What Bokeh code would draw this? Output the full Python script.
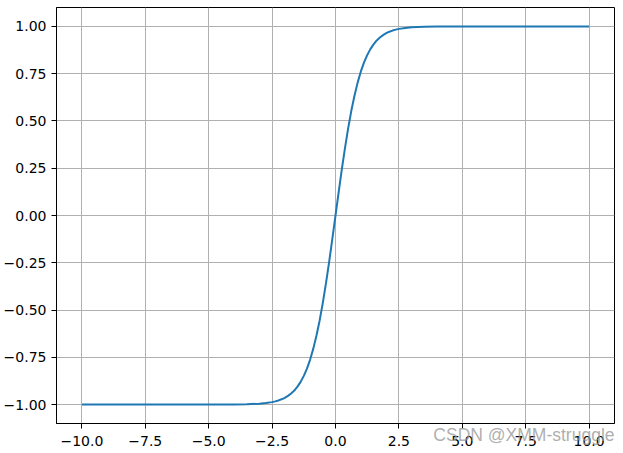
from bokeh.plotting import figure
from bokeh.models import FixedTicker, Range1d, Title
from bokeh.embed import file_html
from bokeh.resources import INLINE

# values (tanh-like curve)
x_vals = [-10.0, -7.5, -5.0, -4.0, -3.5, -3.0, -2.75, -2.5, -2.375, -2.25, -2.125, -2.0,
          -1.875, -1.75, -1.625, -1.5, -1.375, -1.25, -1.125, -1.0, -0.875, -0.75,
          -0.625, -0.5, -0.375, -0.25, -0.125, 0.0, 0.125, 0.25, 0.375, 0.5, 0.625,
          0.75, 0.875, 1.0, 1.125, 1.25, 1.375, 1.5, 1.625, 1.75, 1.875, 2.0, 2.125,
          2.25, 2.375, 2.5, 2.75, 3.0, 3.5, 4.0, 5.0, 7.5, 10.0]
y_vals = [-1.0, -1.0, -0.9999, -0.9993, -0.998, -0.995, -0.992, -0.987, -0.983, -0.978,
          -0.972, -0.964, -0.954, -0.941, -0.926, -0.905, -0.880, -0.848, -0.810, -0.762,
          -0.704, -0.635, -0.555, -0.462, -0.358, -0.245, -0.124, 0.0, 0.124, 0.245,
          0.358, 0.462, 0.555, 0.635, 0.704, 0.762, 0.810, 0.848, 0.880, 0.905, 0.926,
          0.941, 0.954, 0.964, 0.972, 0.978, 0.983, 0.987, 0.992, 0.995, 0.998, 0.9993,
          0.9999, 1.0, 1.0]

x_ticks = [-10.0, -7.5, -5.0, -2.5, 0.0, 2.5, 5.0, 7.5, 10.0]
x_tick_labels = ["\u221210.0", "\u22127.5", "\u22125.0", "\u22122.5", "0.0", "2.5", "5.0", "7.5", "10.0"]
y_ticks = [-1.0, -0.75, -0.5, -0.25, 0.0, 0.25, 0.5, 0.75, 1.0]
y_tick_labels = ["\u22121.00", "\u22120.75", "\u22120.50", "\u22120.25", "0.00", "0.25", "0.50", "0.75", "1.00"]
watermark = "CSDN @XMM-struggle"

p = figure(frame_width=558, frame_height=416, output_backend="svg", toolbar_location=None,
           x_range=Range1d(-11, 11), y_range=Range1d(-1.1, 1.1),
           min_border_left=54, min_border_right=3, min_border_top=7, min_border_bottom=0)
p.background_fill_color = "white"
p.border_fill_color = "white"
p.outline_line_color = "black"
p.outline_line_width = 1
p.outline_line_alpha = 1

p.line(x_vals, y_vals, line_color="#1f77b4", line_width=2)

for ax, ticks, labels in ((p.xaxis[0], x_ticks, x_tick_labels), (p.yaxis[0], y_ticks, y_tick_labels)):
    ax.ticker = FixedTicker(ticks=ticks)
    ax.major_label_overrides = {t: l for t, l in zip(ticks, labels)}
    ax.axis_line_color = "black"
    ax.major_tick_line_color = "black"
    ax.major_tick_in = 0
    ax.major_tick_out = 5
    ax.minor_tick_line_color = None
    ax.major_label_text_font = "DejaVu Sans"
    ax.major_label_text_font_size = "14px"
    ax.major_label_text_color = "black"
p.xaxis[0].major_label_standoff = 7
p.yaxis[0].major_label_standoff = 5

for g in (p.xgrid[0], p.ygrid[0]):
    g.grid_line_color = "#b0b0b0"
    g.grid_line_width = 1

p.xgrid[0].ticker = FixedTicker(ticks=x_ticks)
p.ygrid[0].ticker = FixedTicker(ticks=y_ticks)

wm = Title(text=watermark, align="right", vertical_align="top", standoff=-48, offset=0,
           text_font="Liberation Sans", text_font_size="17.5px", text_font_style="normal",
           text_color="#999999", text_alpha=0.8)
p.add_layout(wm, "below")

open("out.html", "w").write(file_html(p, INLINE))
